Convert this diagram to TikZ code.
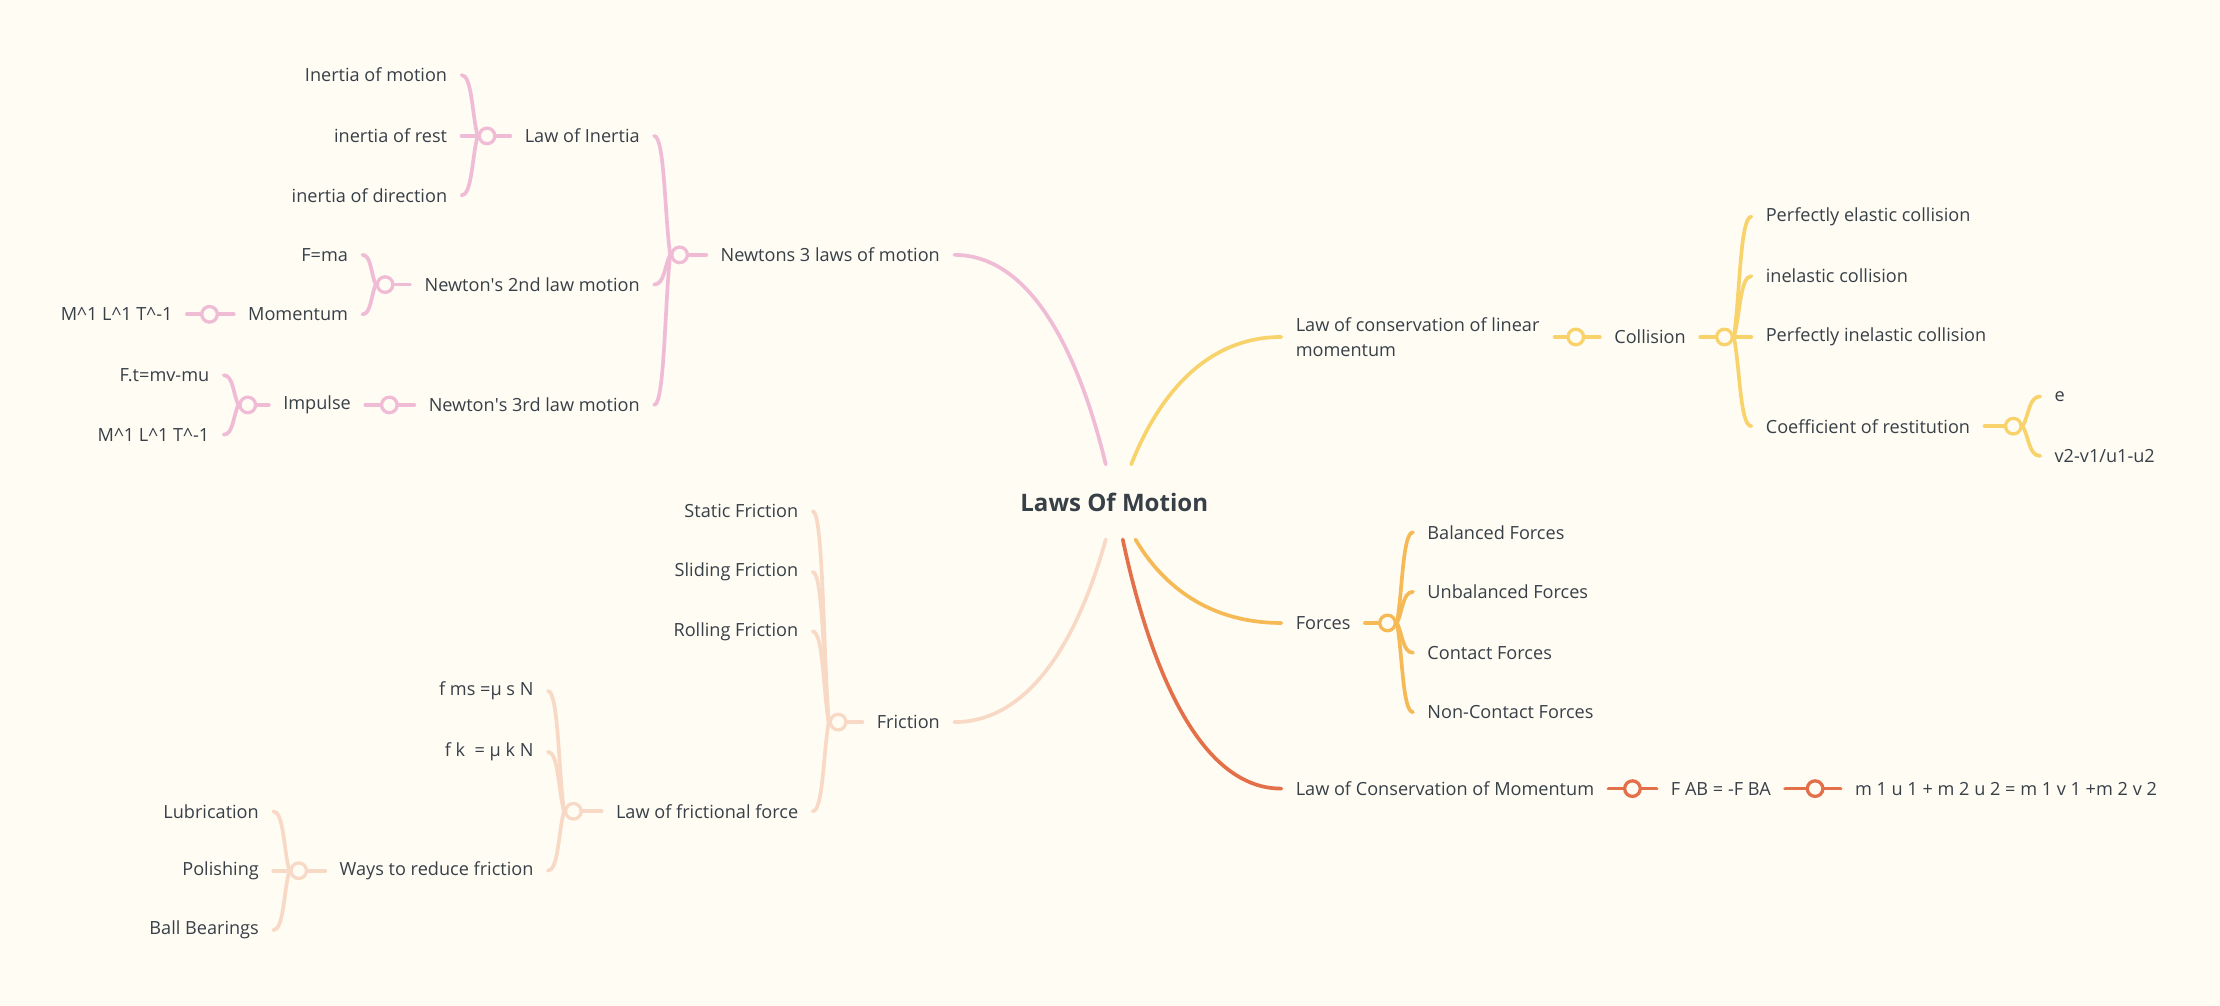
\documentclass[tikz,border=0pt]{standalone}
\usepackage{fontspec}
\setmainfont{Open Sans}
\usetikzlibrary{calc}
\definecolor{bg}{HTML}{FFFCF4}
\definecolor{tx}{HTML}{373F47}
\definecolor{pk}{HTML}{EFBBD5}
\definecolor{yl}{HTML}{F8D26A}
\definecolor{og}{HTML}{F5B956}
\definecolor{rd}{HTML}{E4704A}
\definecolor{pc}{HTML}{F8D9C5}
\tikzset{
 txt/.style={inner xsep=10pt,inner ysep=2pt,text=tx,font=\fontsize{12.8}{18}\selectfont},
 ttl/.style={text=tx,font=\fontsize{17}{18}\selectfont\bfseries},
 jn/.style={circle,draw=#1,fill=bg,line width=2.3pt,minimum size=11pt,inner sep=0pt},
 ln/.style={draw=#1,line width=2.6pt,line cap=round}
}
\newcommand\lnk[3]{\draw[ln=#1] let \p1=(#2), \p2=(#3) in (#2) .. controls ({\x1+0.35*(\x2-\x1)},{\y1+0.35*(\y2-\y1)}) and ({\x1+0.35*(\x2-\x1)},\y2) .. (#3);}
\newcommand\mlnk[3]{\draw[ln=#1] let \p1=(#2), \p2=(#3) in (#2) .. controls ({\x1+0.15*(\x2-\x1)},{\y1+0.45*(\y2-\y1)}) and ({\x1+0.45*(\x2-\x1)},\y2) .. (#3);}
\newcommand\ap{\textquotesingle}
\begin{document}
\begin{tikzpicture}[x=1pt,y=-1pt]
\fill[bg] (0,0) rectangle (1568,710.5);
\useasboundingbox (0,0) rectangle (1568,710.5);
% root
\node[ttl] (root) at (787,355) {Laws Of Motion};
\coordinate (rp) at (781,328);
\coordinate (ry) at (799,328);
\coordinate (rf) at (781,381);
\coordinate (rr) at (793,381);
\coordinate (ro) at (802,381);
% pink
\node[txt,anchor=east] (n3l) at (674,180) {Newtons 3 laws of motion};
\node[jn=pk] (c3l) at (480,180) {};
\node[txt,anchor=east] (loi) at (462,96) {Law of Inertia};
\node[txt,anchor=east] (n2) at (462,201) {Newton\ap s 2nd law motion};
\node[txt,anchor=east] (n3) at (462,286) {Newton\ap s 3rd law motion};
\node[jn=pk] (cloi) at (344,96) {};
\node[txt,anchor=east] (iom) at (326,53) {Inertia of motion};
\node[txt,anchor=east] (ior) at (326,96) {inertia of rest};
\node[txt,anchor=east] (iod) at (326,138) {inertia of direction};
\node[jn=pk] (c2) at (272,201) {};
\node[txt,anchor=east] (fma) at (256,180) {F=ma};
\node[txt,anchor=east] (mom) at (256,222) {Momentum};
\node[jn=pk] (cmom) at (148,222) {};
\node[txt,anchor=east] (md1) at (132,222) {M\^{}1 L\^{}1 T\^{}-1};
\node[jn=pk] (c3) at (275,286) {};
\node[txt,anchor=east] (imp) at (258,286) {Impulse};
\node[jn=pk] (cimp) at (175,286) {};
\node[txt,anchor=east] (ft) at (158,265) {F.t=mv-mu};
\node[txt,anchor=east] (md2) at (158,307) {M\^{}1 L\^{}1 T\^{}-1};
\mlnk{pk}{rp}{n3l.east}
\draw[ln=pk] (n3l.west) -- (c3l.east);
\lnk{pk}{c3l.west}{loi.east}
\lnk{pk}{c3l.west}{n2.east}
\lnk{pk}{c3l.west}{n3.east}
\draw[ln=pk] (loi.west) -- (cloi.east);
\lnk{pk}{cloi.west}{iom.east}
\lnk{pk}{cloi.west}{ior.east}
\lnk{pk}{cloi.west}{iod.east}
\draw[ln=pk] (n2.west) -- (c2.east);
\lnk{pk}{c2.west}{fma.east}
\lnk{pk}{c2.west}{mom.east}
\draw[ln=pk] (mom.west) -- (cmom.east);
\draw[ln=pk] (cmom.west) -- (md1.east);
\draw[ln=pk] (n3.west) -- (c3.east);
\draw[ln=pk] (c3.west) -- (imp.east);
\draw[ln=pk] (imp.west) -- (cimp.east);
\lnk{pk}{cimp.west}{ft.east}
\lnk{pk}{cimp.west}{md2.east}
% yellow
\node[txt,anchor=west,align=left] (lclm) at (905,238) {Law of conservation of linear\\momentum};
\node[jn=yl] (clc) at (1113,238) {};
\node[txt,anchor=west] (col) at (1130,238) {Collision};
\node[jn=yl] (ccol) at (1218,238) {};
\node[txt,anchor=west] (pec) at (1237,153) {Perfectly elastic collision};
\node[txt,anchor=west] (ic) at (1237,195) {inelastic collision};
\node[txt,anchor=west] (pic) at (1237,238) {Perfectly inelastic collision};
\node[txt,anchor=west] (cor) at (1237,301) {Coefficient of restitution};
\node[jn=yl] (ccor) at (1422,301) {};
\node[txt,anchor=west] (e) at (1441,280) {e};
\node[txt,anchor=west] (vv) at (1441,322) {v2-v1/u1-u2};
\coordinate (lcr) at (1098,238);
\mlnk{yl}{ry}{lclm.west}
\draw[ln=yl] (lcr) -- (clc.west);
\draw[ln=yl] (clc.east) -- (col.west);
\draw[ln=yl] (col.east) -- (ccol.west);
\lnk{yl}{ccol.east}{pec.west}
\lnk{yl}{ccol.east}{ic.west}
\lnk{yl}{ccol.east}{pic.west}
\lnk{yl}{ccol.east}{cor.west}
\draw[ln=yl] (cor.east) -- (ccor.west);
\lnk{yl}{ccor.east}{e.west}
\lnk{yl}{ccor.east}{vv.west}
% orange
\node[txt,anchor=west] (frc) at (905,440) {Forces};
\node[jn=og] (cf) at (980,440) {};
\node[txt,anchor=west] (bf) at (998,376) {Balanced Forces};
\node[txt,anchor=west] (uf) at (998,418) {Unbalanced Forces};
\node[txt,anchor=west] (cfc) at (998,461) {Contact Forces};
\node[txt,anchor=west] (ncf) at (998,503) {Non-Contact Forces};
\mlnk{og}{ro}{frc.west}
\draw[ln=og] (frc.east) -- (cf.west);
\lnk{og}{cf.east}{bf.west}
\lnk{og}{cf.east}{uf.west}
\lnk{og}{cf.east}{cfc.west}
\lnk{og}{cf.east}{ncf.west}
% red
\node[txt,anchor=west] (lcm) at (905,557) {Law of Conservation of Momentum};
\node[jn=rd] (clcm) at (1153,557) {};
\node[txt,anchor=west] (fab) at (1170,557) {F AB = -F BA};
\node[jn=rd] (cfab) at (1282,557) {};
\node[txt,anchor=west] (mv) at (1300,557) {m 1 u 1 + m 2 u 2 = m 1 v 1 +m 2 v 2};
\mlnk{rd}{rr}{lcm.west}
\draw[ln=rd] (lcm.east) -- (clcm.west);
\draw[ln=rd] (clcm.east) -- (fab.west);
\draw[ln=rd] (fab.east) -- (cfab.west);
\draw[ln=rd] (cfab.east) -- (mv.west);
% peach
\node[txt,anchor=east] (fric) at (674,510) {Friction};
\node[jn=pc] (cfr) at (592,510) {};
\node[txt,anchor=east] (sf) at (574,361) {Static Friction};
\node[txt,anchor=east] (slf) at (574,404) {Sliding Friction};
\node[txt,anchor=east] (rlf) at (574,446) {Rolling Friction};
\node[txt,anchor=east] (lff) at (574,573) {Law of frictional force};
\node[jn=pc] (clff) at (405,573) {};
\node[txt,anchor=east] (fms) at (387,488) {f ms =μ s N};
\node[txt,anchor=east] (fk) at (387,531) {f k \ = μ k N};
\node[txt,anchor=east] (ways) at (387,615) {Ways to reduce friction};
\node[jn=pc] (cw) at (211,615) {};
\node[txt,anchor=east] (lub) at (193,573) {Lubrication};
\node[txt,anchor=east] (pol) at (193,615) {Polishing};
\node[txt,anchor=east] (bb) at (193,657) {Ball Bearings};
\mlnk{pc}{rf}{fric.east}
\draw[ln=pc] (fric.west) -- (cfr.east);
\lnk{pc}{cfr.west}{sf.east}
\lnk{pc}{cfr.west}{slf.east}
\lnk{pc}{cfr.west}{rlf.east}
\lnk{pc}{cfr.west}{lff.east}
\draw[ln=pc] (lff.west) -- (clff.east);
\lnk{pc}{clff.west}{fms.east}
\lnk{pc}{clff.west}{fk.east}
\lnk{pc}{clff.west}{ways.east}
\draw[ln=pc] (ways.west) -- (cw.east);
\lnk{pc}{cw.west}{lub.east}
\lnk{pc}{cw.west}{pol.east}
\lnk{pc}{cw.west}{bb.east}
\end{tikzpicture}
\end{document}
